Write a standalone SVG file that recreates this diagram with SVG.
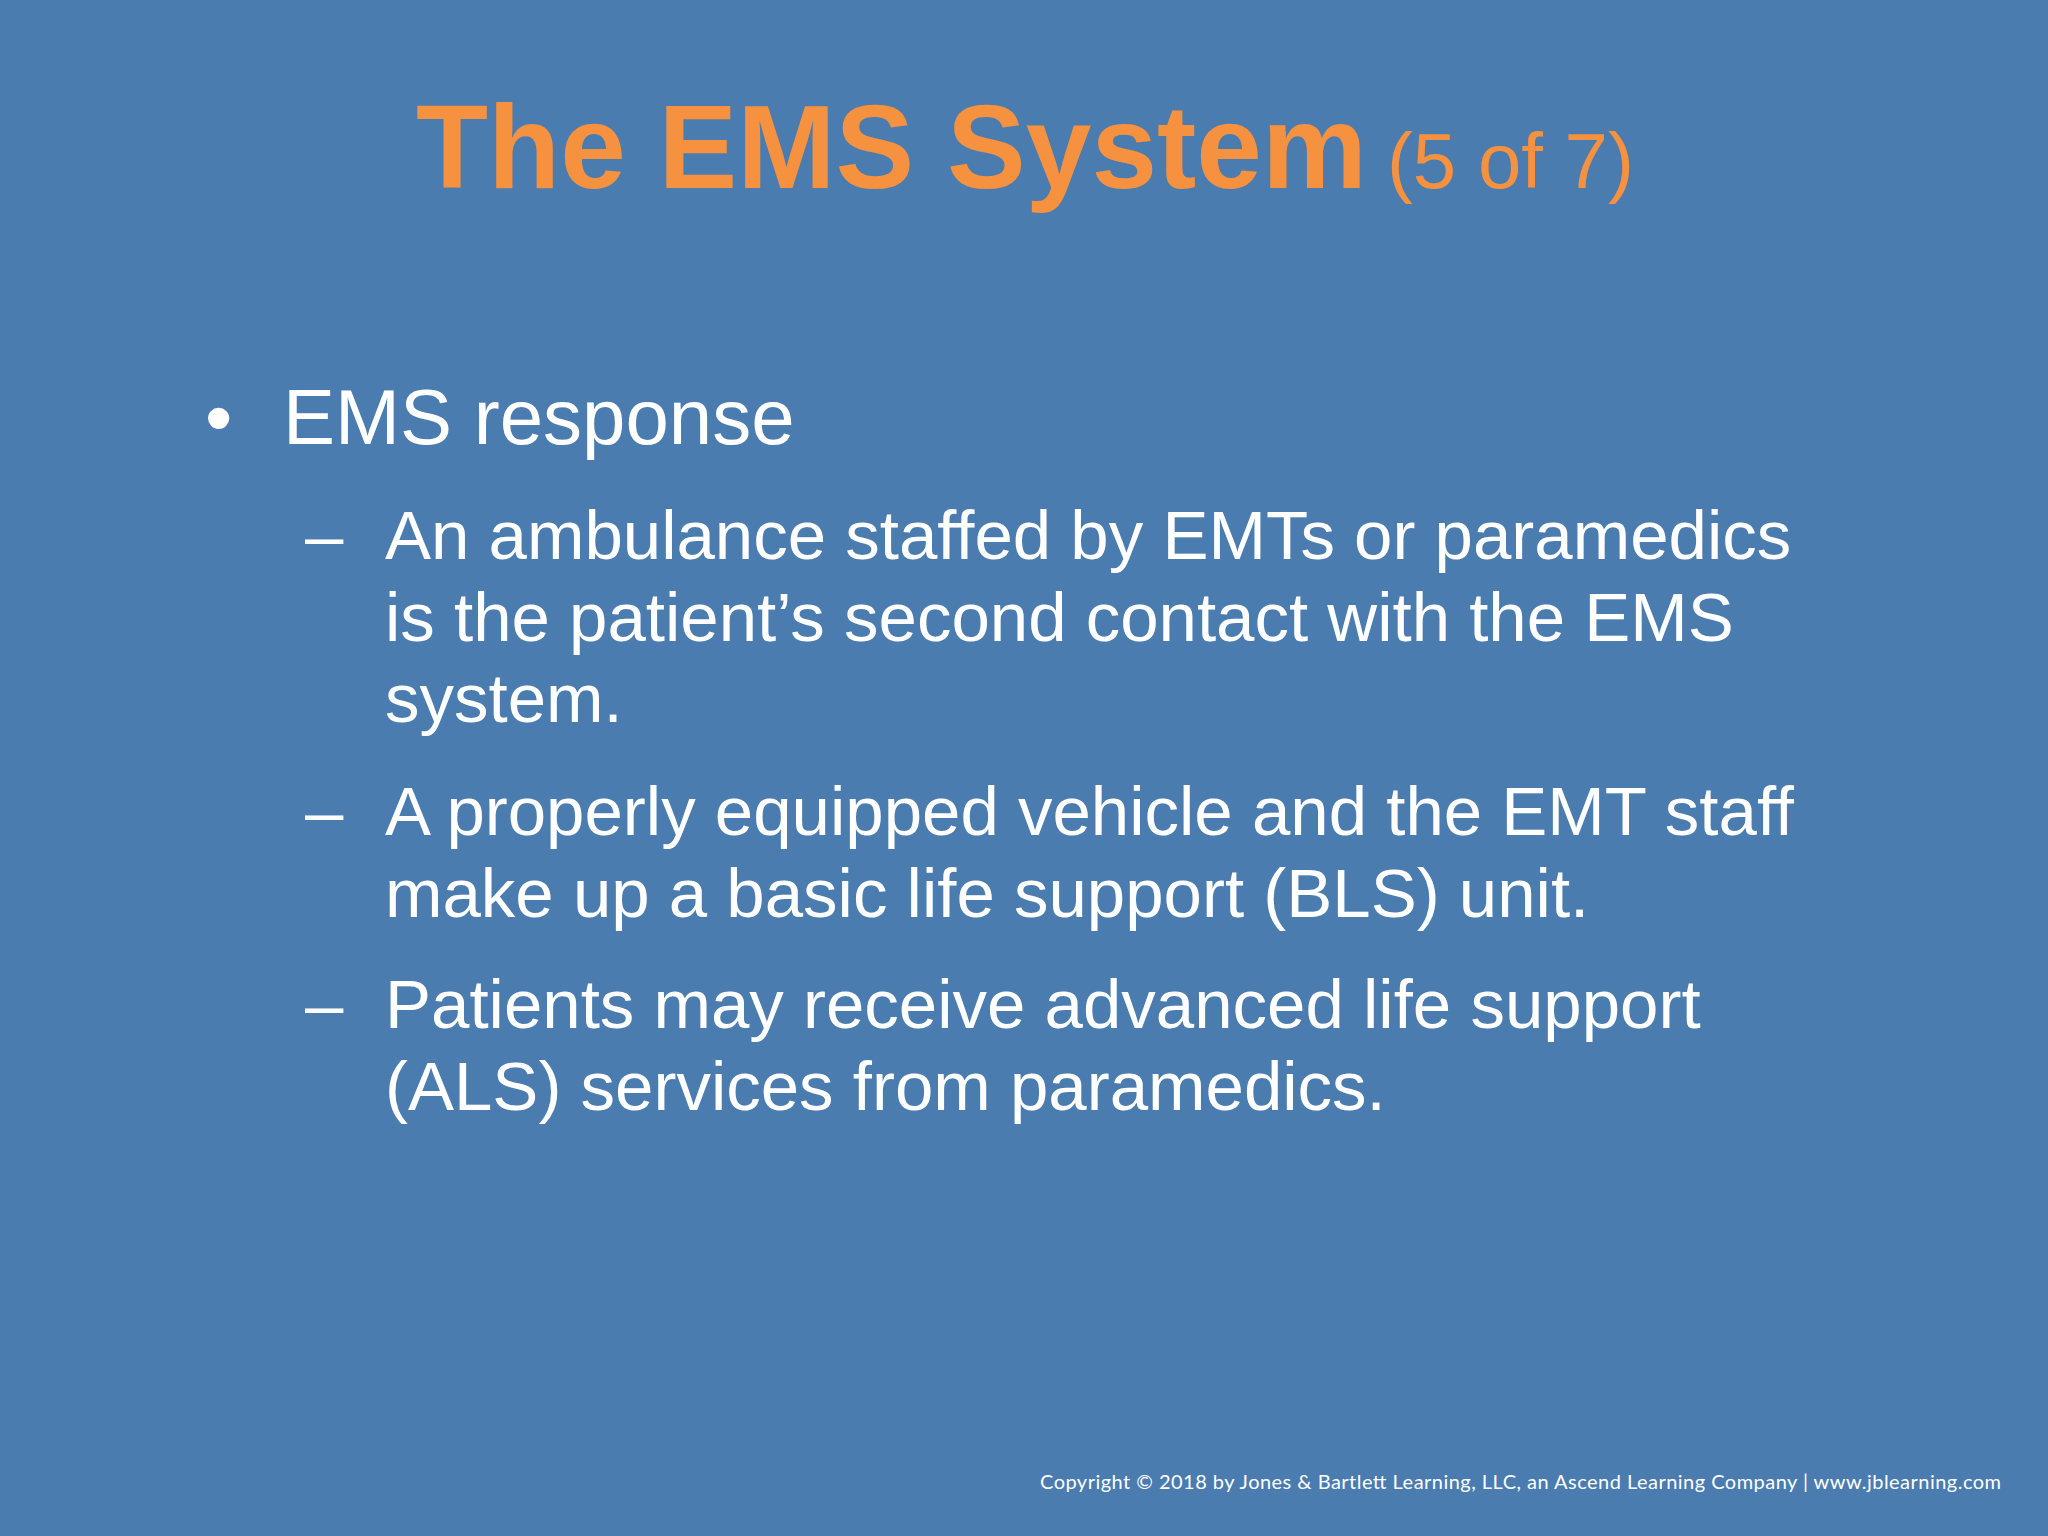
<svg xmlns="http://www.w3.org/2000/svg" width="2048" height="1536" viewBox="0 0 2048 1536">
<style>
.t{font-family:"Liberation Sans",Arial,sans-serif;fill:#ffffff}
.s{font-size:69px}
</style>
<rect width="2048" height="1536" fill="#4a7cb0"/>
<g id="title">
<text x="1025" y="188" text-anchor="middle" font-family="Liberation Sans, Arial, sans-serif" fill="#f5913f"><tspan font-size="118" font-weight="bold">The EMS System</tspan><tspan font-size="78" dx="20">(5 of 7)</tspan></text>
</g>
<g id="body">
<text class="t" x="205" y="444" font-size="78">•</text>
<text class="t" x="283" y="444" font-size="78">EMS response</text>
<text class="t s" x="305" y="559">–</text>
<text class="t s" x="385" y="559">An ambulance staffed by EMTs or paramedics</text>
<text class="t s" x="385" y="641">is the patient’s second contact with the EMS</text>
<text class="t s" x="385" y="722">system.</text>
<text class="t s" x="305" y="835">–</text>
<text class="t s" x="385" y="835">A properly equipped vehicle and the EMT staff</text>
<text class="t s" x="385" y="917">make up a basic life support (BLS) unit.</text>
<text class="t s" x="305" y="1028">–</text>
<text class="t s" x="385" y="1028">Patients may receive advanced life support</text>
<text class="t s" x="385" y="1110">(ALS) services from paramedics.</text>
</g>
<g id="footer">
<text x="2001" y="1489" text-anchor="end" font-family="Lato, 'Liberation Sans', sans-serif" font-size="20" fill="#ffffff" textLength="961">Copyright © 2018 by Jones &amp; Bartlett Learning, LLC, an Ascend Learning Company  |  www.jblearning.com</text>
</g>
</svg>
